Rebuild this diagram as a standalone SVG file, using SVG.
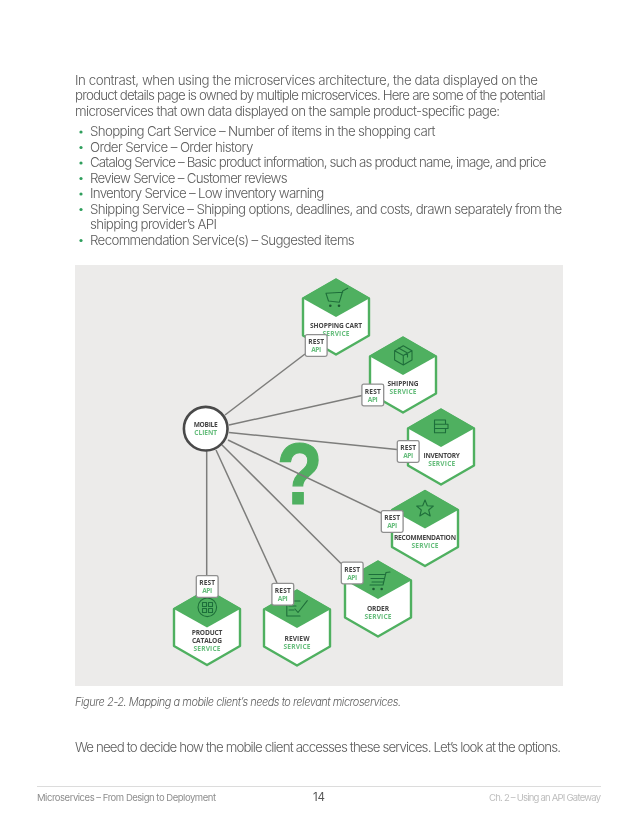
<svg xmlns="http://www.w3.org/2000/svg" width="638" height="826" viewBox="0 0 638 826">
<style>
.b{font-family:"Inter","Liberation Sans",sans-serif;font-size:13.3px;fill:#5c5c5c;font-weight:300}
.cap{font-family:"Inter","Liberation Sans",sans-serif;font-size:11px;fill:#5f5f5f;font-style:italic;font-weight:300}
.ft{font-family:"Inter","Liberation Sans",sans-serif;font-size:9.5px;fill:#8e8e8e}
.d,.g{font-family:"Open Sans","Liberation Sans",sans-serif;font-size:6.6px;font-weight:700;text-anchor:middle}
.d{fill:#454545}.g{fill:#66bd7c}
.hex{fill:#fff;stroke:#4fb060;stroke-width:2.4;stroke-linejoin:round}
.top{fill:#4fb060}
.api{fill:#fff;stroke:#8f8f8f;stroke-width:1.3}
.ic{fill:none;stroke:#1f6e3a;stroke-width:1.1;stroke-linejoin:round;stroke-linecap:round}
.w{fill:#1f5a33}
.cn{stroke:#7d7d7b;stroke-width:1.5;fill:none}
</style>
<defs>
<filter id="soft" x="0" y="0" width="100%" height="100%" filterUnits="userSpaceOnUse"><feGaussianBlur stdDeviation="0.35"/></filter>
<g id="h"><path class="hex" d="M0-37.5 33 -18.500V18.500L0 37.500-33 18.500V-18.500Z"/><path class="top" d="M0-38.500 34-19 0 0-34-19Z"/></g>
<g id="r"><rect class="api" x="0.600" y="0.600" width="21.800" height="21.800" rx="1.800"/><text class="d" x="11.500" y="10" textLength="16">REST</text><text class="g" x="11.500" y="18" textLength="10">API</text></g>
</defs>
<rect width="638" height="826" fill="#fff"/>
<g filter="url(#soft)">
<g id="body">
<text class="b" x="75" y="84.500" textLength="463">In contrast, when using the microservices architecture, the data displayed on the</text>
<text class="b" x="75" y="100" textLength="470.500">product details page is owned by multiple microservices. Here are some of the potential</text>
<text class="b" x="75" y="115.500" textLength="425">microservices that own data displayed on the sample product-specific page:</text>
<g fill="#2e9e5b"><circle cx="81" cy="132" r="1.600"/><circle cx="81" cy="147.500" r="1.600"/><circle cx="81" cy="163" r="1.600"/><circle cx="81" cy="178.500" r="1.600"/><circle cx="81" cy="194" r="1.600"/><circle cx="81" cy="209.500" r="1.600"/><circle cx="81" cy="240.500" r="1.600"/></g>
<text class="b" x="90" y="136" textLength="345.500">Shopping Cart Service – Number of items in the shopping cart</text>
<text class="b" x="90" y="151.500" textLength="163.300">Order Service – Order history</text>
<text class="b" x="90" y="167" textLength="456.500">Catalog Service – Basic product information, such as product name, image, and price</text>
<text class="b" x="90" y="182.500" textLength="197.500">Review Service – Customer reviews</text>
<text class="b" x="90" y="198" textLength="234.300">Inventory Service – Low inventory warning</text>
<text class="b" x="90" y="213.500" textLength="472.300">Shipping Service – Shipping options, deadlines, and costs, drawn separately from the</text>
<text class="b" x="90" y="229" textLength="127">shipping provider’s API</text>
<text class="b" x="90" y="245" textLength="264.700">Recommendation Service(s) – Suggested items</text>
</g>
<rect x="75" y="265" width="488" height="421" fill="#ecebea"/>
<text transform="translate(299.500 504) scale(.86 1)" font-family="Liberation Sans, sans-serif" font-weight="700" font-size="87" text-anchor="middle" fill="#4fb060" stroke="#4fb060" stroke-width="1.200">?</text>
<g id="connectors" class="cn">
<path d="M225 415 305 354"/>
<path d="M229 425 362 395.500"/>
<path d="M229 432.500 397 449.500"/>
<path d="M228 440 381 513"/>
<path d="M222 445 341 563.500"/>
<path d="M216 450 277 583"/>
<path d="M206.700 451 206.700 575"/>
</g>
<g id="shopping-cart">
<use href="#h" x="336" y="317"/>
<path class="ic" d="M347.700 288.300 342.700 291 339.300 302.300 328.500 301 326 293.300 342.700 292.300"/>
<circle class="w" cx="330.300" cy="305.700" r="1.300"/><circle class="w" cx="339" cy="305.700" r="1.300"/>
<text class="d" x="336" y="328" textLength="52">SHOPPING CART</text><text class="g" x="336" y="336" textLength="27">SERVICE</text>
<use href="#r" x="304.700" y="334"/>
</g>
<g id="shipping">
<use href="#h" x="403" y="375"/>
<path class="ic" d="M403.300 345.700 412 350.700V360L403.300 365 394.600 360V350.700ZM394.600 350.700 403.300 355.500 412 350.700M403.300 355.500V365M398.500 348 407.500 353V357"/>
<text class="d" x="403" y="386" textLength="31">SHIPPING</text><text class="g" x="403" y="394" textLength="27">SERVICE</text>
<use href="#r" x="361.300" y="383.500"/>
</g>
<g id="inventory">
<use href="#h" x="441" y="447"/>
<path class="ic" stroke-width="1.300" d="M434.500 420H445.500V424.300H434.500ZM434.500 424.300H448V428.500H434.500ZM434.500 428.500H445.500V432.800H434.500Z"/>
<text class="d" x="441.700" y="458.300" textLength="36.500">INVENTORY</text><text class="g" x="441.700" y="466.300" textLength="27">SERVICE</text>
<use href="#r" x="396.700" y="440"/>
</g>
<g id="recommendation">
<use href="#h" x="425" y="528.500"/>
<path class="ic" d="M425 500 427.300 505.700 433.300 506.100 428.700 510 430.200 516 425 512.700 419.800 516 421.300 510 416.700 506.100 422.700 505.700Z"/>
<text class="d" x="425" y="540" textLength="62">RECOMMENDATION</text><text class="g" x="425" y="548" textLength="27">SERVICE</text>
<use href="#r" x="380.700" y="510"/>
</g>
<g id="order">
<use href="#h" x="378" y="599"/>
<path class="ic" d="M390 572 386 572.500 383 585H370M369 574.500H384.500M371 578.500H384M372 582H383"/>
<circle class="w" cx="373.500" cy="589" r="1.300"/><circle class="w" cx="381.700" cy="589" r="1.300"/>
<text class="d" x="378" y="611.300" textLength="22">ORDER</text><text class="g" x="378" y="619.300" textLength="27">SERVICE</text>
<use href="#r" x="340.700" y="561.500"/>
</g>
<g id="review">
<use href="#h" x="297" y="628"/>
<path class="ic" d="M300 601H286.800V616H300M289 606H296M289 610H294M295 609 298 612.500 307.300 600.700"/>
<text class="d" x="297" y="640.500" textLength="25">REVIEW</text><text class="g" x="297" y="648.500" textLength="27">SERVICE</text>
<use href="#r" x="271.300" y="582.700"/>
</g>
<g id="product-catalog">
<use href="#h" x="207" y="627.500"/>
<circle class="ic" cx="207.300" cy="607.300" r="9.300"/>
<path class="ic" d="M202.500 602.500h4v4h-4zM208.500 602.500h4v4h-4zM202.500 608.500h4v4h-4zM208.500 608.500h4v4h-4z"/>
<text class="d" x="207" y="635.300" textLength="30.700">PRODUCT</text><text class="d" x="207" y="643.300" textLength="30">CATALOG</text><text class="g" x="207" y="651.300" textLength="27">SERVICE</text>
<use href="#r" x="195.700" y="575"/>
</g>
<g id="mobile-client">
<circle cx="205.700" cy="428.700" r="21.800" fill="#fff" stroke="#4a4a4a" stroke-width="2.600"/>
<text class="d" x="205.700" y="427" textLength="24">MOBILE</text><text class="g" x="205.700" y="435" textLength="22.700">CLIENT</text>
</g>
<text class="cap" x="75" y="706" textLength="326">Figure 2-2. Mapping a mobile client’s needs to relevant microservices.</text>
<text class="b" x="75" y="752" textLength="486">We need to decide how the mobile client accesses these services. Let’s look at the options.</text>
<path d="M37 786.500H601" stroke="#dcdcdc" stroke-width="1"/>
<text class="ft" x="37" y="801" textLength="179">Microservices – From Design to Deployment</text>
<text x="319" y="801" font-family="Inter, Liberation Sans, sans-serif" font-size="11.500" fill="#555" text-anchor="middle">14</text>
<text class="ft" x="489" y="801" textLength="112" style="fill:#bdbdbd">Ch. 2 – Using an API Gateway</text>
</g>
</svg>
